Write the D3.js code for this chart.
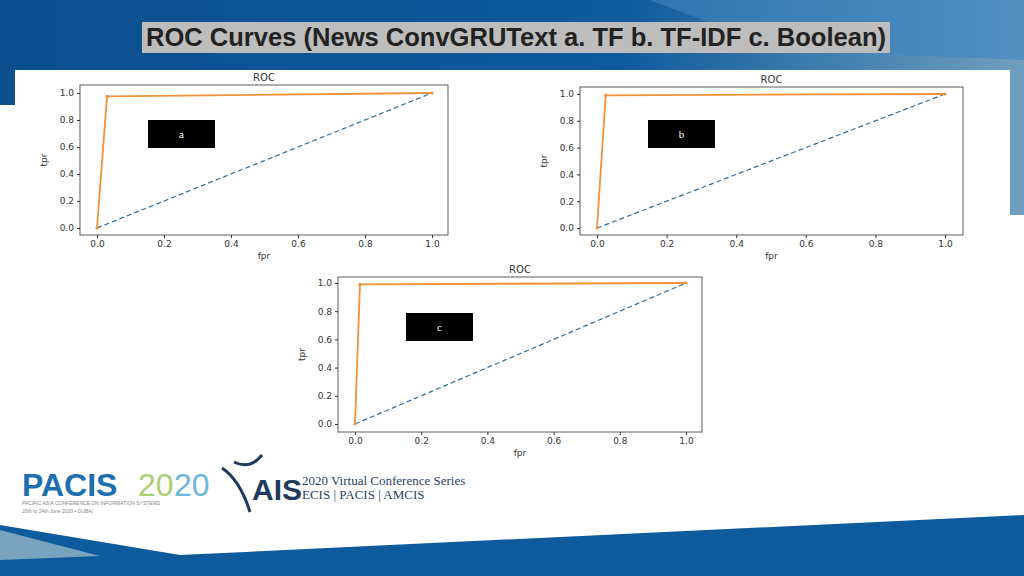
<!DOCTYPE html>
<html><head><meta charset="utf-8">
<script src="https://cdn.jsdelivr.net/npm/d3@7"></script>
<style>body{margin:0;background:#fff;} svg{display:block;}</style>
</head><body>
<svg id="s" width="1024" height="576"></svg>
<script>
// ROC curve points for the three panels
var rocA = [[0, 0], [0.03, 0.975], [1, 1]];
var rocB = [[0, 0], [0.025, 0.99], [1, 1]];
var rocC = [[0, 0], [0.015, 0.99], [1, 1]];
var chance = [[0, 0], [1, 1]];
var panelLabels = ["a", "b", "c"];
var tickVals = [0, 0.2, 0.4, 0.6, 0.8, 1.0];

var svg = d3.select("#s");

// background bands
var defs = svg.append("defs");
var g1 = defs.append("linearGradient").attr("id", "topg").attr("x1", 0).attr("x2", 1);
g1.append("stop").attr("offset", 0).attr("stop-color", "#0b4f8e");
g1.append("stop").attr("offset", 0.6).attr("stop-color", "#0d5a9c");
g1.append("stop").attr("offset", 1).attr("stop-color", "#6f9fc0");
svg.append("polygon").attr("points", "0,0 1024,0 1024,215 1010,215 1010,70 15,70 15,105 0,105").attr("fill", "url(#topg)");
svg.append("polygon").attr("points", "650,0 1024,0 1024,60 780,50").attr("fill", "#3f86c0").attr("opacity", 0.6);
svg.append("polygon").attr("points", "0,525 180,555 1024,515 1024,576 0,576").attr("fill", "#0d5a9c");
svg.append("polygon").attr("points", "0,530 100,556 0,560").attr("fill", "#7aa3bf");

// title
svg.append("rect").attr("x", 142).attr("y", 22).attr("width", 748).attr("height", 31).attr("fill", "#bdbdbd");
svg.append("text").attr("x", 516).attr("y", 46).attr("text-anchor", "middle")
  .attr("font-family", "Liberation Sans Narrow, Liberation Sans").attr("font-weight", "bold").attr("font-size", 25)
  .attr("fill", "#222").attr("textLength", 740).attr("lengthAdjust", "spacingAndGlyphs")
  .text("ROC Curves (News ConvGRUText a. TF b. TF-IDF c. Boolean)");

function panel(data, label, box, xr, yr, lab) {
  var g = svg.append("g").attr("font-family", "DejaVu Sans");
  var x = d3.scaleLinear().domain([0, 1]).range(xr);
  var y = d3.scaleLinear().domain([0, 1]).range(yr);
  g.append("rect").attr("x", box[0]).attr("y", box[1]).attr("width", box[2] - box[0]).attr("height", box[3] - box[1])
    .attr("fill", "#fff").attr("stroke", "#333").attr("stroke-width", 0.8);
  var xa = g.append("g").attr("transform", "translate(0," + box[3] + ")")
    .call(d3.axisBottom(x).tickValues(tickVals).tickFormat(d3.format(".1f")).tickSize(3).tickSizeOuter(0));
  var ya = g.append("g").attr("transform", "translate(" + box[0] + ",0)")
    .call(d3.axisLeft(y).tickValues(tickVals).tickFormat(d3.format(".1f")).tickSize(3).tickSizeOuter(0));
  [xa, ya].forEach(function(a) {
    a.select(".domain").remove();
    a.selectAll("text").attr("font-size", 9).attr("fill", "#333").attr("font-family", "DejaVu Sans");
    a.selectAll("line").attr("stroke", "#333");
  });
  var line = d3.line().x(function(d) { return x(d[0]); }).y(function(d) { return y(d[1]); });
  g.append("path").attr("d", line(chance)).attr("fill", "none").attr("stroke", "#2e6f9e")
    .attr("stroke-width", 1.2).attr("stroke-dasharray", "5,3");
  g.append("path").attr("d", line(data)).attr("fill", "none").attr("stroke", "#f0913a").attr("stroke-width", 1.8);
  g.selectAll("circle").data(data).enter().append("circle")
    .attr("cx", function(d) { return x(d[0]); }).attr("cy", function(d) { return y(d[1]); })
    .attr("r", 1.6).attr("fill", "#f0913a");
  var cx = (box[0] + box[2]) / 2;
  g.append("text").attr("x", cx).attr("y", box[1] - 4).attr("text-anchor", "middle").attr("font-size", 10).attr("fill", "#333").text("ROC");
  g.append("text").attr("x", cx).attr("y", box[3] + 24).attr("text-anchor", "middle").attr("font-size", 9).attr("fill", "#333").text("fpr");
  g.append("text").attr("transform", "translate(" + (box[0] - 33) + "," + ((box[1] + box[3]) / 2) + ") rotate(-90)")
    .attr("text-anchor", "middle").attr("font-size", 9).attr("fill", "#333").text("tpr");
  g.append("rect").attr("x", lab[0]).attr("y", lab[1]).attr("width", 67).attr("height", 28).attr("fill", "#000");
  g.append("text").attr("x", lab[0] + 33.5).attr("y", lab[1] + 18).attr("text-anchor", "middle")
    .attr("font-family", "Liberation Serif").attr("font-size", 11).attr("fill", "#fff").text(label);
}
panel(rocA, panelLabels[0], [80, 85, 448, 235], [97, 432], [228, 93], [148, 120]);
panel(rocB, panelLabels[1], [580, 87, 963, 235], [597, 945], [228, 94], [648, 120]);
panel(rocC, panelLabels[2], [338, 277, 702, 432], [355, 686], [424, 283], [406, 313]);

// logos (text approximation)
var lg = svg.append("g");
lg.append("text").attr("x", 22).attr("y", 496).attr("font-family", "Liberation Sans").attr("font-weight", "bold")
  .attr("font-size", 32).attr("fill", "#1d6fb0").text("PACIS");
lg.append("text").attr("x", 138).attr("y", 496).attr("font-family", "Liberation Sans")
  .attr("font-size", 32).attr("fill", "#a9cf6e").text("20");
lg.append("text").attr("x", 174).attr("y", 496).attr("font-family", "Liberation Sans")
  .attr("font-size", 32).attr("fill", "#6cb8d8").text("20");
lg.append("text").attr("x", 22).attr("y", 505).attr("font-family", "Liberation Sans").attr("font-size", 5).attr("fill", "#888")
  .text("PACIFIC ASIA CONFERENCE ON INFORMATION SYSTEMS");
lg.append("text").attr("x", 22).attr("y", 513).attr("font-family", "Liberation Sans").attr("font-size", 5).attr("fill", "#888")
  .text("20th to 24th June 2020 • DUBAI");
lg.append("path").attr("d", "M222,468 Q240,480 250,512 M234,462 Q250,470 262,455").attr("fill", "none").attr("stroke", "#1f3a5f").attr("stroke-width", 3);
lg.append("text").attr("x", 252).attr("y", 500).attr("font-family", "Liberation Sans Narrow, Liberation Sans").attr("font-weight", "bold")
  .attr("font-size", 30).attr("fill", "#1f3a5f").text("AIS");
lg.append("text").attr("x", 302).attr("y", 485).attr("font-family", "Liberation Serif").attr("font-size", 13).attr("fill", "#2a3f5f").text("2020 Virtual Conference Series");
lg.append("text").attr("x", 302).attr("y", 499).attr("font-family", "Liberation Serif").attr("font-size", 13).attr("fill", "#2a3f5f").text("ECIS | PACIS | AMCIS");
</script>
</body></html>
